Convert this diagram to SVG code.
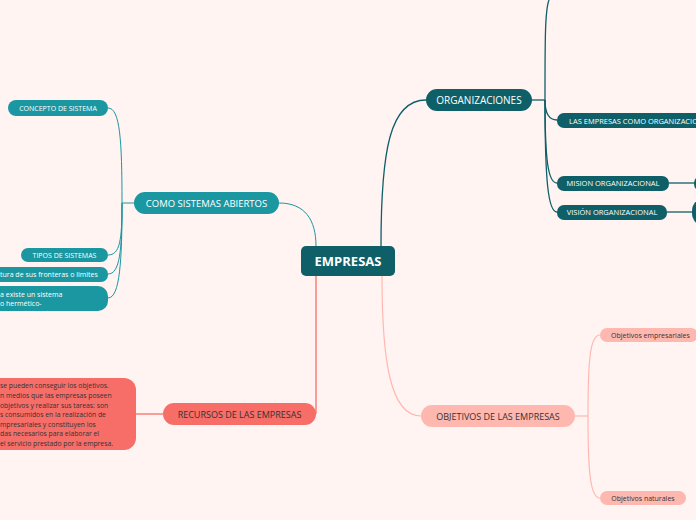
<svg xmlns="http://www.w3.org/2000/svg" width="696" height="520" viewBox="0 0 696 520">
<style>
text{font-family:"Open Sans","Noto Sans",sans-serif}
.dk{fill:#0e5f68}.tl{fill:#1b97a1}.rd{fill:#f66e67}.pk{fill:#ffb8b0}
.w{fill:#fff}.b{fill:#333}
.cd{stroke:#0e5f68;fill:none;stroke-width:1.3}.ct{stroke:#1b97a1;fill:none;stroke-width:1}
.cr{stroke:#f66e67;fill:none;stroke-width:1.3}.cp{stroke:#ffb8b0;fill:none;stroke-width:1.2}
</style>
<rect width="696" height="520" fill="#fff4f2"/>
<g id="connectors">
<path class="cd" d="M381 246 C381 150 390 100 426 100"/>
<path class="cd" d="M532 100 H545"/>
<path class="cd" d="M545 100 C545 40 545 10 549 0"/>
<path class="cd" d="M545 100 C545 115 550 120 557 120"/>
<path class="cd" d="M545 100 C545 160 548 183 557 183"/>
<path class="cd" d="M545 100 C545 180 548 212 557 212"/>
<path class="cd" d="M669 183 H696"/>
<path class="cd" d="M667 212 H693"/>
<path class="ct" d="M316 246 C316 220 305 203 279 203"/>
<path class="ct" d="M134 203 H122"/>
<path class="ct" d="M122 203 C122 140 120 108 108 108"/>
<path class="ct" d="M122 203 C122 240 120 255 108 255"/>
<path class="ct" d="M122 203 C122 250 120 274 108 274"/>
<path class="ct" d="M122 203 C122 260 120 298 108 298"/>
<path class="cr" d="M316 276 C316 330 316 400 316 414"/>
<path class="cr" d="M163 414 H136"/>
<path class="cp" d="M382 276 C382 360 390 416 421 416"/>
<path class="cp" d="M575 416 H588"/>
<path class="cp" d="M588 416 C588 360 590 335 600 335"/>
<path class="cp" d="M588 416 C588 470 590 498 600 498"/>
</g>
<g id="empresas"><rect class="dk" x="301" y="246" width="94" height="30" rx="5"/><text class="w" x="348" y="266" font-size="13" font-weight="bold" text-anchor="middle">EMPRESAS</text></g>
<g id="organizaciones"><rect class="dk" x="426" y="89" width="106" height="22" rx="11"/><text class="w" x="479" y="104" font-size="10" text-anchor="middle">ORGANIZACIONES</text></g>
<g id="las-empresas"><rect class="dk" x="557" y="113" width="150" height="15" rx="7"/><text class="w" x="569" y="124" font-size="7.5">LAS EMPRESAS COMO ORGANIZACIONES</text></g>
<g id="mision"><rect class="dk" x="557" y="176" width="112" height="15" rx="7"/><text class="w" x="613" y="186" font-size="7.5" text-anchor="middle">MISION ORGANIZACIONAL</text></g>
<g id="mision-sub"><rect class="dk" x="694" y="176" width="20" height="15" rx="7"/></g>
<g id="vision"><rect class="dk" x="557" y="205" width="110" height="15" rx="7"/><text class="w" x="612" y="215" font-size="7.5" text-anchor="middle">VISIÓN ORGANIZACIONAL</text></g>
<g id="vision-sub"><rect class="dk" x="692" y="197" width="30" height="30" rx="14"/></g>
<g id="como"><rect class="tl" x="134" y="192" width="145" height="22" rx="11"/><text class="w" x="206.5" y="207" font-size="9.5" text-anchor="middle">COMO SISTEMAS ABIERTOS</text></g>
<g id="concepto"><rect class="tl" x="8" y="100" width="100" height="16" rx="8"/><text class="w" x="58" y="111" font-size="7" text-anchor="middle">CONCEPTO DE SISTEMA</text></g>
<g id="tipos"><rect class="tl" x="21" y="248" width="87" height="14" rx="7"/><text class="w" x="64.5" y="258" font-size="7" text-anchor="middle">TIPOS DE SISTEMAS</text></g>
<g id="fronteras"><rect class="tl" x="-10" y="267" width="118" height="15" rx="7"/><text class="w" x="0" y="277" font-size="7">tura de sus fronteras o limites</text></g>
<g id="hermetico"><rect class="tl" x="-10" y="286" width="118" height="25" rx="10"/><text class="w" x="0" y="297" font-size="7">a existe un sistema</text><text class="w" x="0" y="306" font-size="7">o hermético-</text></g>
<g id="recursos"><rect class="rd" x="163" y="403" width="153" height="22" rx="11"/><text class="b" x="239.5" y="418" font-size="9" text-anchor="middle">RECURSOS DE LAS EMPRESAS</text></g>
<g id="recursos-text"><rect class="rd" x="-20" y="378" width="156" height="72" rx="12"/>
<text class="b" font-size="6.8"><tspan x="0" y="388">se pueden conseguir los objetivos.</tspan><tspan x="0" y="398">n medios que las empresas poseen</tspan><tspan x="0" y="408">objetivos y realizar sus tareas: son</tspan><tspan x="0" y="417">s consumidos en la realización de</tspan><tspan x="0" y="427">mpresariales y constituyen los</tspan><tspan x="0" y="436">das necesarios para elaborar el</tspan><tspan x="0" y="446">el servicio prestado por la empresa.</tspan></text></g>
<g id="objetivos"><rect class="pk" x="421" y="405" width="154" height="22" rx="11"/><text class="b" x="498" y="420" font-size="9" text-anchor="middle">OBJETIVOS DE LAS EMPRESAS</text></g>
<g id="obj-emp"><rect class="pk" x="600" y="328" width="98" height="14" rx="7"/><text class="b" x="611" y="338" font-size="7">Objetivos empresariales</text></g>
<g id="obj-nat"><rect class="pk" x="600" y="491" width="86" height="14" rx="7"/><text class="b" x="643" y="501" font-size="7" text-anchor="middle">Objetivos naturales</text></g>
</svg>
